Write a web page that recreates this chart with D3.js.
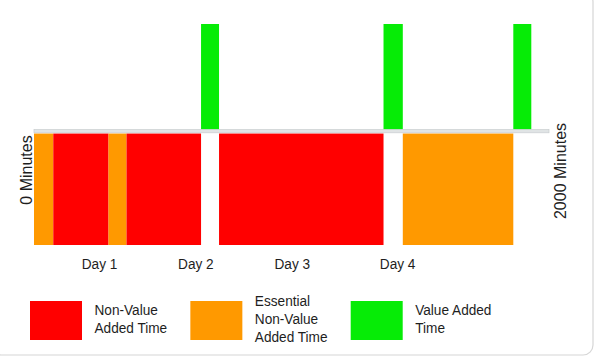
<!DOCTYPE html>
<html>
<head>
<meta charset="utf-8">
<script src="https://cdn.jsdelivr.net/npm/d3@7/dist/d3.min.js"></script>
<style>
  html, body { margin: 0; padding: 0; background: #fff; }
  svg { display: block; }
  text { font-family: "Liberation Sans", Arial, sans-serif; fill: #1e1e1e; }
</style>
</head>
<body>
<svg id="chart" width="600" height="360"></svg>
<script>
// ---- data ----
const segMinutes = [75, 215, 70, 290, 70, 640, 75, 430, 70];
const segTypes   = ["Essential", "NonValue", "Essential", "NonValue", "Value", "NonValue", "Value", "Essential", "Value"];
const dayLabels  = ["Day 1", "Day 2", "Day 3", "Day 4"];
const dayMinutes = [255, 630, 1005, 1415];
const axisStartLabel = "0 Minutes";
const axisEndLabel   = "2000 Minutes";
const axisDomain     = [0, 2000];
const legendKeys   = ["NonValue", "Essential", "Value"];
const legendLabels = [["Non-Value", "Added Time"], ["Essential", "Non-Value", "Added Time"], ["Value Added", "Time"]];

// ---- styles ----
const colors = { NonValue: "#ff0000", Essential: "#ff9900", Value: "#06ec06" };

const svg = d3.select("#chart");

// outer rounded frame
svg.append("rect")
  .attr("x", -8).attr("y", -8).attr("width", 601).attr("height", 363)
  .attr("rx", 10).attr("fill", "none").attr("stroke", "#d6d6d6").attr("stroke-width", 1.2);

const x = d3.scaleLinear().domain(axisDomain).range([34, 548]);
const rows = d3.scaleOrdinal().domain(["above", "below"]).range([[24, 129.5], [133.5, 245]]);

// cumulative starts
let acc = 0;
const segs = segMinutes.map((m, i) => {
  const s = { start: acc, end: acc + m, type: segTypes[i] };
  acc += m;
  return s;
});

// bars
svg.append("g").selectAll("rect").data(segs).join("rect")
  .attr("x", d => x(d.start))
  .attr("width", d => x(d.end) - x(d.start))
  .attr("y", d => rows(d.type === "Value" ? "above" : "below")[0])
  .attr("height", d => { const r = rows(d.type === "Value" ? "above" : "below"); return r[1] - r[0]; })
  .attr("fill", d => colors[d.type]);

// axis band
svg.append("rect")
  .attr("x", x(axisDomain[0])).attr("y", 129.6)
  .attr("width", x(axisDomain[1]) - x(axisDomain[0]) + 1).attr("height", 3.2)
  .attr("fill", "#e0e4e5").attr("stroke", "#c8cdcf").attr("stroke-width", 0.7);

// axis end labels (rotated)
svg.append("text")
  .attr("transform", "translate(31.5,170) rotate(-90)")
  .attr("text-anchor", "middle").attr("font-size", 16)
  .text(axisStartLabel);
svg.append("text")
  .attr("transform", "translate(565.8,171) rotate(-90)")
  .attr("text-anchor", "middle").attr("font-size", 16)
  .text(axisEndLabel);

const sx = 0.88;
const fs = 15.5;
// day labels
svg.append("g").selectAll("text").data(dayLabels).join("text")
  .attr("transform", (d, i) => `translate(${x(dayMinutes[i])},268.5) scale(${sx},1)`)
  .attr("text-anchor", "middle").attr("font-size", fs)
  .text(d => d);

// legend
const lx = d3.scalePoint().domain(legendKeys).range([30, 350.7]);
const lg = svg.append("g").selectAll("g").data(legendKeys).join("g");
lg.append("rect")
  .attr("x", d => lx(d)).attr("y", 301).attr("width", 52).attr("height", 39)
  .attr("fill", d => colors[d]);
lg.each(function (d, i) {
  const lines = legendLabels[i];
  const y0 = lines.length === 3 ? 305.5 : 315.2;
  d3.select(this).selectAll("text").data(lines).join("text")
    .attr("transform", (t, j) => `translate(${lx(d) + 64.5},${y0 + j * 18.2}) scale(${sx},1)`)
    .attr("font-size", fs)
    .text(t => t);
});
</script>
</body>
</html>
